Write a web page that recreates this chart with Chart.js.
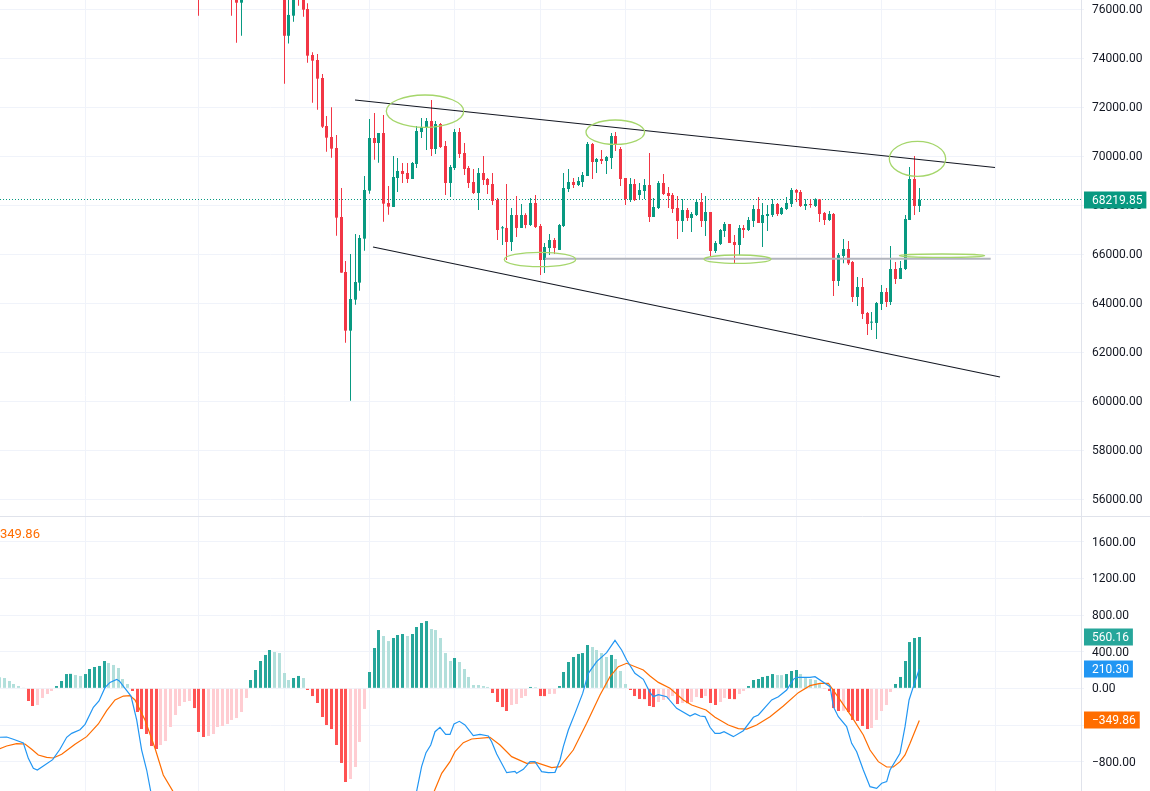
<!DOCTYPE html>
<html>
<head>
<meta charset="utf-8">
<style>
  html, body { margin: 0; padding: 0; background: #fff; overflow: hidden; }
  canvas { display: block; }
</style>
<script src="https://cdn.jsdelivr.net/npm/chart.js@4"></script>
</head>
<body>
<canvas id="chart" width="1150" height="791"></canvas>
<script>
var candleStart = 42;
var candleOpen = [
  77400, null, null, null, null, null, null, 77200, 76800, 76270,
  null, null, null, null, null, null, null, null, 76800, 74920,
  75740, 77000, 76600,
  76013, 74135, 73931, 73196, 71237, 70788, 70339, 67523, 65278, 62884,
  64149, 64843, 66639, 68598, 70747, 70543, 70952, 68094, 67932, 69115,
  69401, 69319, 69074, 69687, 70993, 71197, 71442, 70299, 71319, 70421,
  68911, 69523, 70993, 70136, 69523, 68952, 68503, 69319, 69074, 68870,
  68217, 67061, 67075, 66503, 67605, 67075, 67605, 67197, 68095, 67156,
  65768, 66258, 66585, 66177, 67156, 68666, 68951, 68829, 68951, 69196,
  70502, 69768, 69890, 69808, 69931, 70829, 70298, 69115, 68217, 68870,
  68421, 68584, 68829, 67523, 67890, 68910, 68502, 68421, 67890, 67359,
  67808, 67482, 67604, 68135, 67359, 67727, 66135, 66421, 66951, 67237,
  66502, 66380, 67074, 66992, 67359, 67849, 67278, 67564, 67604, 68053,
  67645, 67850, 68054, 68625, 68543, 67972, 68054, 67972, 68244, 67686,
  67401, 67645, 64911, 65931, 66217, 65686, 64258, 64666, 63605, 63210,
  63197, 63972, 64462, 64054, 65401, 64993, 65401, 67401, 69074, 67972
];
var candleHigh = [
  77600, null, null, null, null, null, null, 77500, 77000, 77100,
  null, null, null, null, null, null, null, null, 77000, 76500,
  76900, 77200, 76800,
  76244, 74244, 74176, 73360, 71645, 72000, 70870, 68707, 65727, 66013,
  66829, 66789, 69197, 71523, 71768, 70952, 71686, 68788, 70013, 69932,
  69727, 69727, 69768, 71238, 71564, 71564, 72299, 71442, 71360, 70625,
  69646, 71115, 71156, 70544, 69605, 69483, 69523, 70013, 69115, 69319,
  68299, 67156, 68870, 67891, 68381, 68054, 67673, 68299, 68421, 67238,
  66462, 66830, 66666, 67238, 69319, 69483, 69115, 69155, 69359, 70584,
  70543, 69931, 70257, 70012, 70951, 70992, 70380, 69115, 69115, 69074,
  68910, 69074, 70135, 68298, 68992, 69278, 68747, 68502, 68380, 68257,
  67890, 67727, 68257, 68502, 68380, 67727, 66543, 67033, 67319, 67237,
  66788, 67196, 67196, 67523, 68013, 68339, 68094, 68013, 68257, 68094,
  67931, 68339, 68707, 68666, 68625, 68244, 68244, 68285, 68244, 67727,
  67768, 67686, 66054, 66625, 66544, 65727, 65074, 65033, 63646, 63646,
  64054, 64748, 64625, 66339, 65686, 65727, 67605, 69564, 70013, 68707
];
var candleLow = [
  75740, null, null, null, null, null, null, 75740, 74640, 74920,
  null, null, null, null, null, null, null, null, 72965, 74600,
  75496, 76150, 75700,
  73822, 72190, 71904, 71156, 70190, 69945, 66761, 65251, 62394, 60027,
  63945, 64516, 66149, 68476, 69863, 69741, 67333, 67618, 67932, 68544,
  68911, 68911, 69074, 69523, 70748, 70258, 70013, 70095, 70340, 68421,
  68340, 69442, 69932, 69238, 68707, 68462, 67809, 68830, 68462, 68013,
  66585, 66381, 65768, 66136, 66707, 67075, 67061, 67156, 67075, 65156,
  65238, 65972, 66013, 66177, 67115, 68544, 68706, 68788, 68747, 69196,
  69074, 69319, 69686, 69278, 69482, 70217, 68788, 68013, 68135, 68176,
  68257, 68257, 67319, 67523, 67849, 68421, 67890, 67686, 66625, 66911,
  67359, 66911, 67564, 67115, 66747, 65890, 66053, 66380, 66706, 66462,
  65645, 65972, 66666, 66951, 67115, 67278, 66298, 66951, 67523, 67564,
  67604, 67809, 67931, 68135, 67931, 67809, 67904, 67931, 67319, 67197,
  67360, 64299, 64707, 65632, 65564, 64054, 63890, 63360, 62707, 62911,
  62544, 63727, 63850, 63931, 64789, 64993, 65360, 67401, 67605, 67727
];
var candleClose = [
  76600, null, null, null, null, null, null, 76700, 76270, 76900,
  null, null, null, null, null, null, null, null, 74920, 75770,
  76600, 76500, 75985,
  74108, 73904, 73169, 71210, 70761, 70312, 67496, 65251, 62884, 64176,
  64870, 66666, 68625, 70747, 70543, 70952, 68067, 67945, 69156, 69401,
  69279, 69074, 69727, 71034, 71197, 71442, 70299, 71319, 70380, 68911,
  69564, 70993, 70095, 69483, 68911, 68503, 69319, 69034, 68830, 68177,
  66993, 67102, 66503, 67605, 67075, 67605, 67197, 68095, 67115, 65768,
  66299, 66585, 66258, 67197, 68707, 68952, 68829, 68992, 69237, 70502,
  69768, 69890, 69808, 69972, 70829, 70461, 69074, 68257, 68870, 68217,
  68625, 68829, 67523, 67931, 68910, 68461, 68380, 67849, 67359, 67808,
  67482, 67645, 68135, 67359, 67727, 66135, 66462, 66992, 67237, 66462,
  66380, 67074, 66992, 67400, 67849, 67278, 67604, 67645, 68053, 67645,
  67890, 68094, 68625, 68516, 67972, 68054, 68013, 68244, 67645, 67401,
  67645, 64911, 65972, 66217, 65632, 64258, 64666, 63564, 63156, 63251,
  64013, 64462, 64054, 65401, 64993, 65442, 67441, 69074, 67972, 68219.85
];

var histValues = [
  120, 113, 80, 47, 25, 7, -138, -193, -182, -105,
  -62, -29, 25, 80, 156, 158, 145, 135, 156, 211,
  233, 244, 298, 276, 255, 222, 102, 47, -29, -258,
  -444, -498, -629, -662, -618, -575, -422, -291, -193, -149,
  -138, -215, -476, -531, -520, -498, -422, -411, -389, -345,
  -324, -258, -105, 91, 200, 298, 364, 418, 396, 385,
  167, 91, 113, 135, 113, -18, -84, -160, -313, -400,
  -444, -618, -814, -1022, -989, -858, -585, -225, 178, 440,
  636, 571, 516, 549, 582, 593, 571, 593, 669, 713,
  734, 647, 636, 549, 385, 298, 331, 287, 211, 124,
  36, 36, 25, 15, -51, -149, -204, -247, -182, -171,
  -105, -84, 15, 12, -84, -85, -62, -60, 25, 178,
  287, 342, 375, 385, 473, 451, 418, 385, 342, 364,
  320, 189, 47, -18, -84, -116, -118, -193, -204, -149,
  -127, -116, -84, -171, -160, -162, -149, -95, -105, -84,
  -160, -182, -149, -105, -116, -118, -62, -29, 25, 91,
  102, 124, 135, 156, 145, 144, 156, 189, 200, 156,
  113, 102, 91, 47, -7, -29, -215, -247, -245, -258,
  -345, -356, -411, -444, -433, -345, -247, -182, -40, 47,
  124, 298, 505, 549, 560.16
];

var macdBars = [
  0, 1.46, 2.87, 4.98, 6.03, 7.09, 7.93, 9.2, 11.17, 12.7, 14.12, 15.18, 16.93, 18, 19.75, 20.94,
  22.2, 23.26, 24.67, 25.23, 26.43, 27.69, 28.89, 29.94, 31, 31.84, 32.5, 87.5, 87.96, 89, 89.93,
  90.93, 91.83, 92.88, 94.08, 95, 95.84, 96.97, 98.15, 99.9, 101.32, 103.08, 103.78, 104.84, 106.95,
  108.7, 109.05, 110.46, 111.87, 112.92, 114.33, 115.73, 117.14, 118.2, 118.9, 119.96, 121.36, 122.98,
  124.18, 125.93, 128.04, 129.8, 131.2, 132.26, 134, 135.78, 137.19, 137.9, 138.95, 140.7, 142.81,
  145.63, 146.68, 147.74, 148.8, 149.85, 150.9, 151.95, 152.8, 154.77, 156.88, 159, 160.05, 162.86,
  164.27, 166.02, 167.43, 168.13, 170.94, 172, 175.17, 175.87, 176.92, 178.67, 179.73, 180.79, 182.19,
  183.6, 185, 186.07, 187.12, 187.82, 189.93, 190.99, 191.84, 192.75, 194
];
var macdValues = [
  -534, -531, -556, -596, -764, -873, -891, -847, -778, -665, -534, -491, -451, -393, -207, -138,
  7, 65, 98, 80, 0, -84, -345, -673, -891, -1120, -1400, -1400, -1120, -854, -702,
  -618, -473, -425, -502, -502, -389, -360, -400, -516, -502, -520, -582, -716, -920,
  -905, -927, -884, -800, -800, -909, -920, -916, -782, -636, -455, -273, -55,
  164, 291, 389, 524, 418, 309, 164, 98, -47, -91, -69, -91, -218,
  -302, -276, -302, -309, -425, -491, -491, -473, -527, -462, -316, -291, -127,
  -91, -18, 98, 120, 120, 127, 18, -200, -309, -418, -600, -691, -891,
  -1073, -1091, -1036, -1018, -891, -709, -418, -127, 18, 210.30
];
var signalBars = [
  0, 1.46, 3.57, 5.33, 6.74, 8.14, 9.9, 11.31, 13.07, 15.88, 18.34, 20.8, 22.56, 24.32, 26.08, 27.48,
  28.54, 30.65, 32.76, 34.5, 36.5, 37.5, 90.5, 91.69, 93.24, 94.99, 96.05, 97.8, 99.56, 103.43, 105.54,
  108, 111.17, 113.27, 116.44, 118.2, 121, 123.82, 126.64, 128.75, 130.5, 132.26, 135.78, 137.19,
  138.95, 141.4, 144.22, 145.98, 149, 150.9, 153.71, 155.82, 157.58, 159.69, 162.51, 165.32, 168.48,
  170.94, 173.06, 174.82, 176.92, 179.73, 182.19, 183.6, 185.36, 187.12, 188.52, 189.93, 190.99, 192.05, 194
];
var signalValues = [
  -658, -629, -604, -607, -665, -727, -753, -760, -720, -611, -527, -389, -244, -127, -84, -80,
  -127, -345, -654, -945, -1120, -1400, -1400, -1120, -927, -800, -691, -593, -553, -534, -618,
  -745, -818, -811, -865, -855, -673, -382, -73, 127, 236, 273, 200, 135,
  65, 0, -127, -182, -236, -316, -400, -440, -444, -400, -309, -193, -47,
  29, 55, 55, -98, -309, -509, -673, -800, -858, -858, -800, -727, -600, -349.86
];

// drawings on the price pane
var upperTrendBars = [74.95, 209.97];
var upperTrendPrices = [72298, 69543];
var lowerTrendBars = [78.75, 211.03];
var lowerTrendPrices = [66298, 60992];
var supportBars = [115.03, 209.06];
var supportPrices = [65821, 65821];
var ellipseBars = [89.72, 129.86, 193.62, 113.98, 155.65, 198.79];
var ellipsePrices = [71841, 70984, 69898, 65788, 65800, 65943];
var ellipseBarRadius = [8.16, 6.18, 5.95, 7.53, 7.07, 9.0];
var ellipsePriceRadius = [661, 498, 714, 294, 171, 69];

var gridBars = [18, 42, 60, 78, 96, 114, 132, 150, 168, 186, 210];
var priceTicks = [56000, 58000, 60000, 62000, 64000, 66000, 68000, 70000, 72000, 74000, 76000];
var macdTicks = [-800, -400, 0, 400, 800, 1200, 1600];
var hiddenMacdTick = -400; // sits behind the signal value box
var lastPrice = 68219.85;
var lastHist = 560.16;
var lastMacd = 210.30;
var lastSignal = -349.86;

var GREEN = "#089981";
var RED = "#f23645";
var BLUE = "#2196f3";
var ORANGE = "#ff6d00";
var GRID = "#f0f3fa";
var FONT = "12px Roboto";

var xMin = 0.055;
var xMax = xMin + 1081 / 4.74;

function money(v) {
  return (v < 0 ? "\u2212" : "") + Math.abs(v).toFixed(2);
}

function pairs(xs, ys) {
  return xs.map(function (x, i) { return { x: x, y: ys[i] }; });
}

function tickSetter(values) {
  return function (scale) {
    scale.ticks = values.map(function (v) { return { value: v }; });
  };
}

var bodies = [], wicks = [], bodyColors = [], wickColors = [];
candleOpen.forEach(function (open, i) {
  if (open === null) {
    return;
  }
  var col = candleClose[i] >= open ? GREEN : RED;
  bodies.push({ x: candleStart + i, y: [open, candleClose[i]] });
  wicks.push({ x: candleStart + i, y: [candleLow[i], candleHigh[i]] });
  bodyColors.push(col);
  wickColors.push(col);
});

var histColors = histValues.map(function (v, i) {
  var prev = i > 0 ? histValues[i - 1] : Infinity;
  if (v >= 0) {
    return v > prev ? "#26a69a" : "#b2dfdb";
  }
  return v < prev ? "#ff5252" : "#ffcdd2";
});

function lineSet(data, color, width, axis, order) {
  return {
    type: "line",
    data: data,
    yAxisID: axis,
    borderColor: color,
    borderWidth: width,
    pointRadius: 0,
    tension: 0,
    order: order
  };
}

function barSet(data, colors, thickness, axis, order) {
  return {
    data: data,
    yAxisID: axis,
    backgroundColor: colors,
    barThickness: thickness,
    inflateAmount: 0,
    grouped: false,
    order: order
  };
}

var lastPriceLine = lineSet(pairs([xMin, xMax], [lastPrice, lastPrice]), GREEN, 1, "price", 9);
lastPriceLine.borderDash = [1, 2];

var overlay = {
  id: "overlay",
  // keep candles, columns and the dotted line on whole pixels, they blur otherwise
  beforeDatasetsDraw: function (chart) {
    chart.data.datasets.forEach(function (ds, i) {
      var meta = chart.getDatasetMeta(i);
      if (meta.type === "bar") {
        meta.data.forEach(function (bar) {
          bar.x = Math.floor(bar.x) + 0.5;
        });
      } else if (ds === lastPriceLine) {
        meta.data.forEach(function (pt) {
          pt.y = Math.floor(pt.y) + 0.5;
        });
      }
    });
  },
  afterDatasetsDraw: function (chart) {
    var ctx = chart.ctx, sx = chart.scales.x, sy = chart.scales.price;
    ctx.save();
    ctx.strokeStyle = "#a5d66b";
    ctx.lineWidth = 1.3;
    ellipseBars.forEach(function (bar, i) {
      var cx = sx.getPixelForValue(bar), cy = sy.getPixelForValue(ellipsePrices[i]);
      var rx = sx.getPixelForValue(bar + ellipseBarRadius[i]) - cx;
      var ry = cy - sy.getPixelForValue(ellipsePrices[i] + ellipsePriceRadius[i]);
      ctx.beginPath();
      ctx.ellipse(cx, cy, rx, ry, 0, 0, Math.PI * 2);
      ctx.stroke();
    });
    ctx.restore();
  },
  afterDraw: function (chart) {
    var ctx = chart.ctx, sp = chart.scales.price, sm = chart.scales.macd;
    ctx.save();
    ctx.strokeStyle = "#e0e3eb";
    ctx.lineWidth = 1;
    ctx.beginPath();
    ctx.moveTo(0, Math.round(sm.top) + 0.5);
    ctx.lineTo(chart.width, Math.round(sm.top) + 0.5);
    ctx.stroke();

    ctx.font = FONT;
    ctx.textBaseline = "middle";
    ctx.textAlign = "left";
    var boxes = [
      [sp, lastPrice, GREEN],
      [sm, lastHist, "#26a69a"],
      [sm, lastMacd, BLUE],
      [sm, lastSignal, ORANGE]
    ];
    boxes.forEach(function (b) {
      var text = money(b[1]);
      var y = b[0].getPixelForValue(b[1]);
      var w = ctx.measureText(text).width + 12;
      ctx.fillStyle = b[2];
      ctx.fillRect(1084, Math.round(y) - 8.5, w, 17);
      ctx.fillStyle = "#fff";
      ctx.fillText(text, 1092, y + 1);
    });

    ctx.fillStyle = ORANGE;
    ctx.font = "13px Roboto";
    ctx.fillText(Math.abs(lastSignal).toFixed(2), 0, 535);
    ctx.restore();
  }
};

function yAxis(min, max, values, stackWeight, layoutOrder) {
  return {
    position: "right",
    stack: "panes",
    stackWeight: stackWeight,
    weight: layoutOrder,
    min: min,
    max: max,
    afterBuildTicks: tickSetter(values),
    afterFit: function (scale) {
      scale.width = 69;
      scale.paddingTop = 0;
      scale.paddingBottom = 0;
    },
    grid: { color: GRID, tickLength: 3, tickColor: GRID },
    border: { color: "#e0e3eb" },
    ticks: {
      autoSkip: false,
      padding: 8,
      labelOffset: 1,
      color: "#131722",
      font: { family: "Roboto", size: 12 },
      maxRotation: 0,
      callback: function (v) { return v === hiddenMacdTick ? "" : money(v); }
    }
  };
}

new Chart(document.getElementById("chart").getContext("2d"), {
  type: "bar",
  data: {
    datasets: [
      lastPriceLine,
      barSet(wicks, wickColors, 1, "price", 7),
      barSet(bodies, bodyColors, 3, "price", 6),
      lineSet(pairs(upperTrendBars, upperTrendPrices), "#131722", 1.1, "price", 4),
      lineSet(pairs(lowerTrendBars, lowerTrendPrices), "#131722", 1.1, "price", 4),
      lineSet(pairs(supportBars, supportPrices), "#b2b5be", 2, "price", 5),
      barSet(pairs(histValues.map(function (v, i) { return i; }), histValues), histColors, 3, "macd", 8),
      lineSet(pairs(signalBars, signalValues), ORANGE, 1.2, "macd", 3),
      lineSet(pairs(macdBars, macdValues), BLUE, 1.2, "macd", 2)
    ]
  },
  options: {
    responsive: false,
    animation: false,
    layout: { padding: 0 },
    events: [],
    scales: {
      x: {
        type: "linear",
        offset: false,
        min: xMin,
        max: xMax,
        afterBuildTicks: tickSetter(gridBars),
        grid: { color: GRID, drawTicks: false, offset: false },
        border: { display: false },
        ticks: { display: false }
      },
      price: yAxis(55318, 76380, priceTicks, 516, 0),
      macd: yAxis(-1120, 1880, macdTicks, 275, 1)
    },
    plugins: {
      legend: { display: false },
      tooltip: { enabled: false }
    }
  },
  plugins: [overlay]
});
</script>
</body>
</html>
